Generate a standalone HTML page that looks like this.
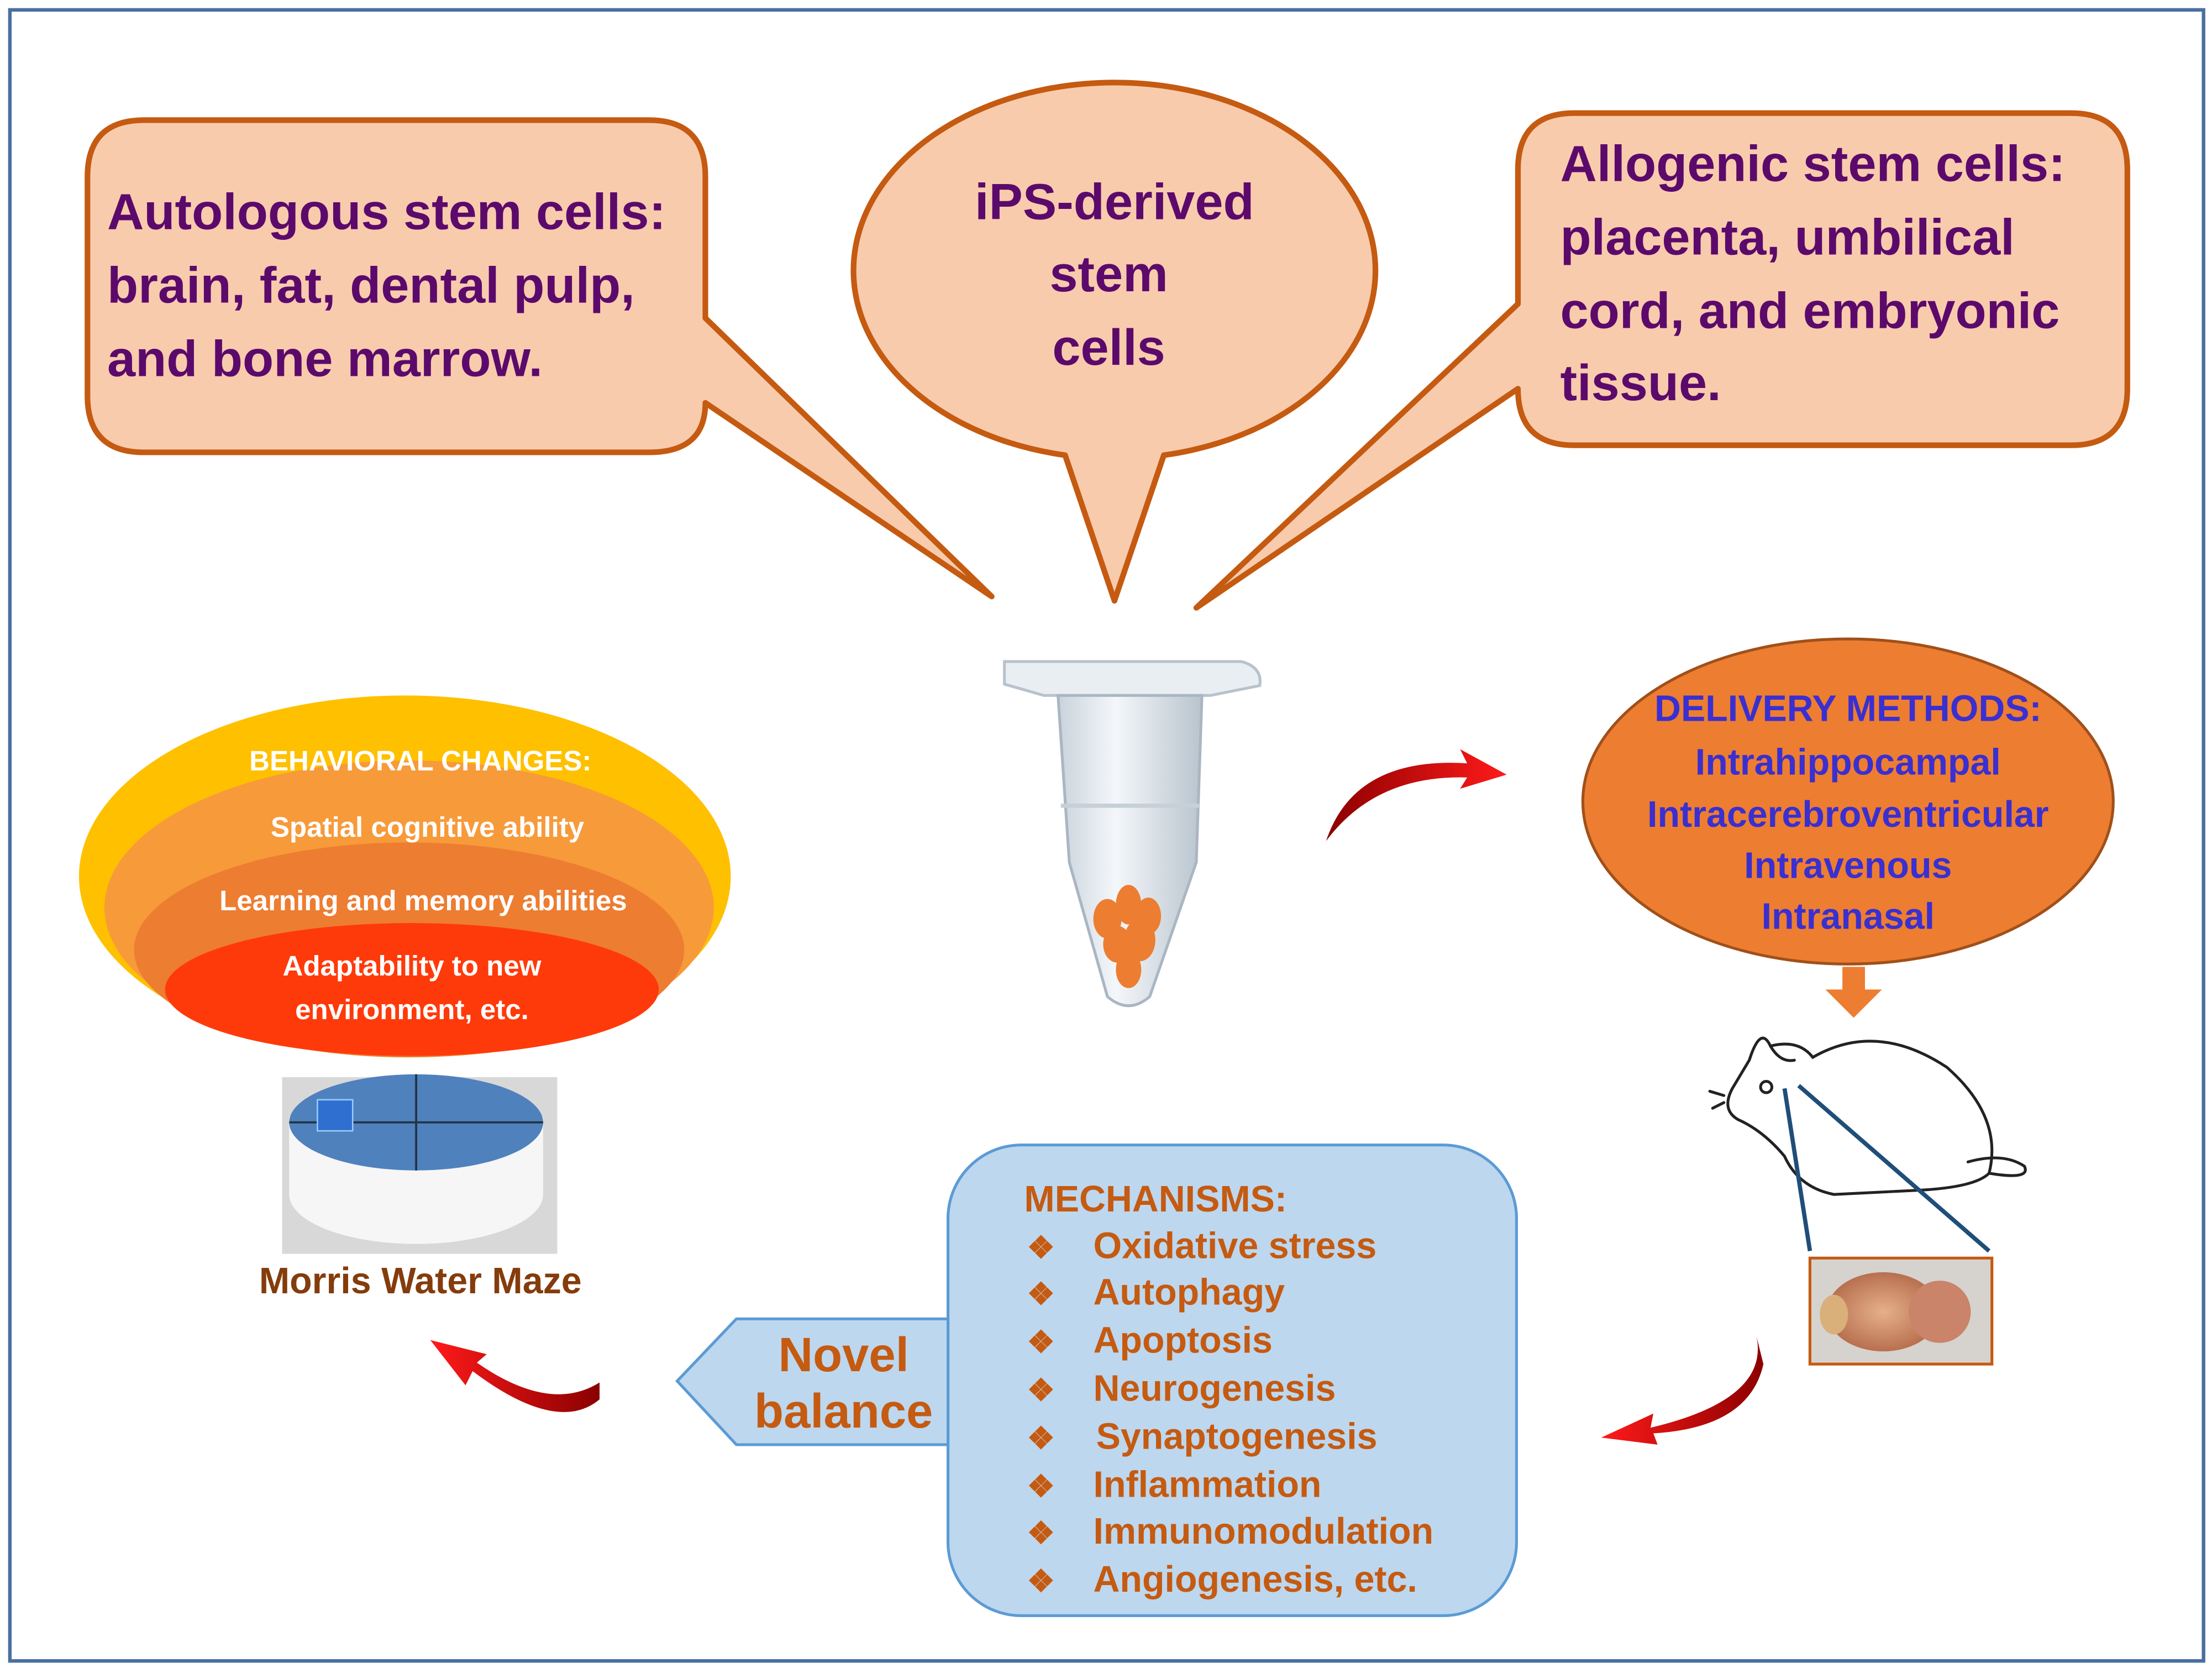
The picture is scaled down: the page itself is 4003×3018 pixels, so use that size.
<!DOCTYPE html>
<html><head><meta charset="utf-8"><style>
html,body{margin:0;padding:0;background:#fff;}
svg{display:block;}
text{font-family:"Liberation Sans",sans-serif;font-weight:bold;}
</style></head><body>
<svg width="4003" height="3018" viewBox="0 0 1568 1180" preserveAspectRatio="none" xmlns="http://www.w3.org/2000/svg">
<defs>
<linearGradient id="tube" x1="0" x2="1"><stop offset="0" stop-color="#c9d3dc"/><stop offset="0.4" stop-color="#f4f7fa"/><stop offset="1" stop-color="#b9c4ce"/></linearGradient>
<linearGradient id="red" x1="0" x2="1"><stop offset="0" stop-color="#8b0000"/><stop offset="1" stop-color="#ff1a1a"/></linearGradient>
<linearGradient id="red2" x1="1" x2="0"><stop offset="0" stop-color="#8b0000"/><stop offset="1" stop-color="#ff1a1a"/></linearGradient>
<radialGradient id="brain"><stop offset="0" stop-color="#e6b08a"/><stop offset="1" stop-color="#b8704f"/></radialGradient>
</defs>
<rect x="0" y="0" width="1568" height="1180" fill="#fff"/>
<rect x="7" y="7" width="1555" height="1168" fill="none" stroke="#4a6fa0" stroke-width="2.5"/>

<!-- left callout -->
<path d="M102,85 H460 Q500,85 500,125 V225 L703,422 L500,285 Q500,320 460,320 H102 Q62,320 62,280 V125 Q62,85 102,85 Z" fill="#f8cbad" stroke="#c55a11" stroke-width="4" stroke-linejoin="round"/>
<g fill="#5b0a6b" font-size="36">
<text x="76" y="162">Autologous stem cells:</text>
<text x="76" y="214">brain, fat, dental pulp,</text>
<text x="76" y="266">and bone marrow.</text>
</g>
<!-- center bubble -->
<path d="M755,322 A185,133 0 1 1 825,322 L790,425 Z" fill="#f8cbad" stroke="#c55a11" stroke-width="4" stroke-linejoin="round"/>
<g fill="#5b0a6b" font-size="36" text-anchor="middle">
<text x="790" y="155">iPS-derived</text>
<text x="786" y="206">stem</text>
<text x="786" y="258">cells</text>
</g>
<!-- right callout -->
<path d="M1116,80 H1468 Q1508,80 1508,120 V275 Q1508,315 1468,315 H1116 Q1076,315 1076,275 L848,430 L1076,215 V120 Q1076,80 1116,80 Z" fill="#f8cbad" stroke="#c55a11" stroke-width="4" stroke-linejoin="round"/>
<g fill="#5b0a6b" font-size="36">
<text x="1106" y="128">Allogenic stem cells:</text>
<text x="1106" y="180">placenta,  umbilical</text>
<text x="1106" y="232">cord, and embryonic</text>
<text x="1106" y="283">tissue.</text>
</g>

<!-- behavioral ellipses -->
<ellipse cx="287" cy="620" rx="231" ry="128" fill="#ffc000"/>
<ellipse cx="290" cy="642" rx="216" ry="104" fill="#f79a3a"/>
<ellipse cx="290" cy="672" rx="195" ry="76" fill="#ed7d31"/>
<ellipse cx="292" cy="700" rx="175" ry="47" fill="#ff3a0a"/>
<g fill="#fff" font-size="20" text-anchor="middle">
<text x="298" y="545">BEHAVIORAL CHANGES:</text>
<text x="303" y="592">Spatial cognitive ability</text>
<text x="300" y="644">Learning and memory abilities</text>
<text x="292" y="690">Adaptability to new</text>
<text x="292" y="721">environment, etc.</text>
</g>
<!-- maze -->
<rect x="200" y="762" width="195" height="125" fill="#d8d8d8"/>
<path d="M205,790 V845 A90,35 0 0 0 385,845 V790 Z" fill="#f6f6f6"/>
<ellipse cx="295" cy="794" rx="90" ry="34" fill="#4f81bd"/>
<line x1="205" y1="794" x2="385" y2="794" stroke="#234" stroke-width="1.5"/>
<line x1="295" y1="760" x2="295" y2="828" stroke="#234" stroke-width="1.5"/>
<rect x="225" y="778" width="25" height="22" fill="#2f6fd0" stroke="#9cf" stroke-width="1"/>
<text x="298" y="915" fill="#843c0c" font-size="26" text-anchor="middle">Morris Water Maze</text>

<!-- tube -->
<path d="M712,468 L880,468 Q895,472 893,485 L858,492 L740,492 L712,484 Z" fill="#e9eef2" stroke="#b8c2cc" stroke-width="2"/>
<path d="M750,492 H852 L848,610 L815,705 Q800,718 785,705 L758,610 Z" fill="url(#tube)" stroke="#aab6c2" stroke-width="2"/>
<line x1="752" y1="570" x2="850" y2="570" stroke="#c6d0d8" stroke-width="3"/>
<g fill="#ed7d31">
<ellipse cx="785" cy="650" rx="10" ry="14"/><ellipse cx="800" cy="640" rx="9" ry="14"/><ellipse cx="814" cy="648" rx="9" ry="13"/>
<ellipse cx="792" cy="668" rx="10" ry="13"/><ellipse cx="808" cy="665" rx="11" ry="15"/><ellipse cx="800" cy="686" rx="9" ry="13"/>
</g>
<!-- arrow 1 -->
<path d="M940,595 Q960,535 1040,540 L1035,530 L1068,548 L1035,558 L1040,550 Q975,548 940,595 Z" fill="url(#red)"/>

<!-- delivery -->
<ellipse cx="1310" cy="567" rx="188" ry="115" fill="#ed7d31" stroke="#a0501a" stroke-width="2"/>
<g fill="#3a2fd0" font-size="26" text-anchor="middle">
<text x="1310" y="510">DELIVERY METHODS:</text>
<text x="1310" y="548">Intrahippocampal</text>
<text x="1310" y="585">Intracerebroventricular</text>
<text x="1310" y="621">Intravenous</text>
<text x="1310" y="657">Intranasal</text>
</g>
<path d="M1306,684 H1322 V700 H1334 L1314,720 L1294,700 H1306 Z" fill="#ed7d31"/>
<!-- mouse -->
<g fill="none" stroke="#222" stroke-width="2" stroke-linecap="round">
<path d="M1240,750 Q1248,725 1255,740 Q1275,735 1285,748 Q1330,722 1380,755 Q1420,790 1410,830 Q1400,840 1360,842 L1300,845 Q1275,840 1265,818 Q1250,800 1232,792 Q1220,785 1228,770 Z"/>
<path d="M1255,740 Q1262,752 1272,750"/>
<path d="M1410,830 Q1440,835 1435,825 Q1420,815 1395,822"/>
<path d="M1222,775 L1212,772 M1222,780 L1214,784"/>
<circle cx="1252" cy="769" r="4"/>
</g>
<line x1="1265" y1="770" x2="1283" y2="885" stroke="#1f4e79" stroke-width="3"/>
<line x1="1275" y1="768" x2="1410" y2="885" stroke="#1f4e79" stroke-width="3"/>
<rect x="1283" y="890" width="129" height="75" fill="#d6d2ce" stroke="#c55a11" stroke-width="2"/>
<ellipse cx="1335" cy="928" rx="40" ry="28" fill="url(#brain)"/>
<ellipse cx="1375" cy="928" rx="22" ry="22" fill="#c9846a"/>
<ellipse cx="1300" cy="930" rx="10" ry="14" fill="#d9b07a"/>
<!-- arrow 2 -->
<path d="M1245,945 Q1255,990 1170,1010 L1172,1000 L1135,1017 L1175,1022 L1172,1014 Q1240,1010 1250,965 Z" fill="url(#red2)"/>

<!-- mechanisms -->
<rect x="672" y="810" width="403" height="333" rx="52" fill="#bdd7ee" stroke="#5b9bd5" stroke-width="2"/>
<g fill="#c55a11" font-size="26">
<text x="726" y="857">MECHANISMS:</text>
<g font-size="22"><text x="728" y="890">❖</text><text x="728" y="923">❖</text><text x="728" y="957">❖</text><text x="728" y="991">❖</text><text x="728" y="1025">❖</text><text x="728" y="1059">❖</text><text x="728" y="1092">❖</text><text x="728" y="1126">❖</text></g>
<text x="775" y="890">Oxidative  stress</text>
<text x="775" y="923">Autophagy</text>
<text x="775" y="957">Apoptosis</text>
<text x="775" y="991">Neurogenesis</text>
<text x="777" y="1025">Synaptogenesis</text>
<text x="775" y="1059">Inflammation</text>
<text x="775" y="1092">Immunomodulation</text>
<text x="775" y="1126">Angiogenesis,  etc.</text>
</g>
<!-- novel balance -->
<path d="M480,977 L522,933 H672 V1022 H522 Z" fill="#bdd7ee" stroke="#5b9bd5" stroke-width="2"/>
<g fill="#c55a11" font-size="34" text-anchor="middle">
<text x="598" y="970">Novel</text>
<text x="598" y="1010">balance</text>
</g>
<!-- arrow 3 -->
<path d="M425,990 Q395,1015 335,970 L330,980 L305,948 L345,958 L338,964 Q390,1000 425,978 Z" fill="url(#red2)"/>
</svg>
</body></html>
